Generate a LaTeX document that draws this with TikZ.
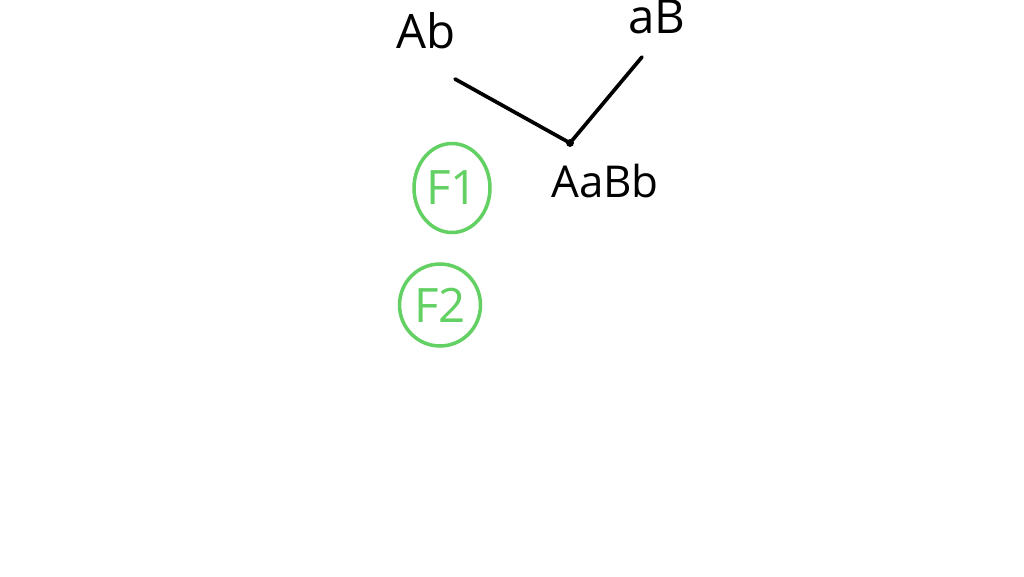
\documentclass[tikz,border=0pt]{standalone}
\usepackage{fontspec}
\setmainfont{Open Sans}
\usetikzlibrary{shapes.geometric}
\definecolor{fgreen}{RGB}{98,208,98}
\tikzset{
	gen/.style={font=\fontsize{27}{30}\selectfont, inner sep=0pt},
	gmark/.style={draw=fgreen, text=fgreen, line width=2pt, ellipse, inner sep=0pt, font=\fontsize{27}{30}\selectfont},
	cross/.style={line width=2.1pt, line cap=round}
}
\begin{document}
\begin{tikzpicture}[x=0.02cm, y=-0.02cm]
			\useasboundingbox (0,0) rectangle (1024,576);
			\node[gen] (gamL) at (426,31) {Ab};
			\node[gen] (gamR) at (657,17) {aB};
			\node[gen, font=\fontsize{25}{28}\selectfont] (hybrid) at (605,181) {AaBb};
			\coordinate (l1) at (455,79);
			\coordinate (r1) at (642,57);
			\coordinate (join) at (570,143);
			\draw[cross] (l1) to (join);
			\draw[cross] (r1) to (join);
			\draw[fill=black] (join) circle (2pt);
			\node[gmark, minimum width=1.52cm, minimum height=1.78cm] (fone) at (452,188) {F1};
			\node[gmark, minimum width=1.62cm, minimum height=1.64cm] (ftwo) at (440,305) {F2};
		\end{tikzpicture}
\end{document}
